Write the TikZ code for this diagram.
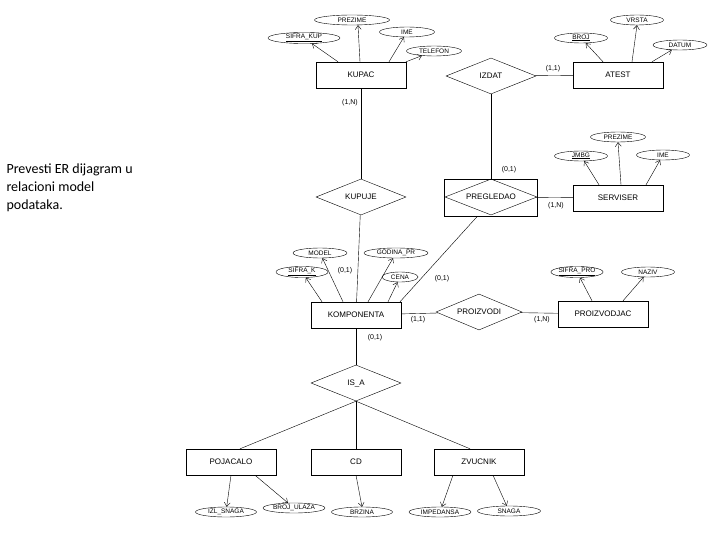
\documentclass[tikz,border=0pt]{standalone}
\usepackage{fontspec}
\setmainfont{Liberation Sans}
\newfontfamily\myCalib{Carlito}
\usetikzlibrary{shapes.geometric,arrows.meta}
\begin{document}
\begin{tikzpicture}[x=1pt,y=-1pt,
  ent/.style={draw,minimum width=90pt,minimum height=26pt,inner sep=0pt,font=\fontsize{8}{9}\selectfont},
  rel/.style={draw,diamond,aspect=2.5,minimum width=90pt,minimum height=36pt,inner sep=0pt,font=\fontsize{8}{9}\selectfont},
  att/.style={draw,ellipse,minimum height=10pt,inner sep=0pt,font=\fontsize{6.5}{7}\selectfont},
  key/.style={att},
  ar/.style={-{Straight Barb[length=4pt,width=6pt]}},
  card/.style={font=\fontsize{7}{8}\selectfont}]
\useasboundingbox (0,0) rectangle (720,540);
\node[anchor=north west,align=left,font=\myCalib\fontsize{14}{18}\selectfont] (txt) at (3,160) {Prevesti ER dijagram u\\relacioni model\\podataka.};
% entities
\node[ent] (kupac) at (361,75) {KUPAC};
\node[ent] (atest) at (618,75) {ATEST};
\node[ent] (serv) at (618,198) {SERVISER};
\node[ent] (komp) at (356,315) {KOMPONENTA};
\node[ent] (proj) at (603,314) {PROIZVODJAC};
\node[ent] (poj) at (231,462) {POJACALO};
\node[ent] (cd) at (356,462) {CD};
\node[ent] (zvu) at (479,462) {ZVUCNIK};
% relations
\node[rel] (izdat) at (491,76) {IZDAT};
\node[rel] (kupuje) at (361,197) {KUPUJE};
\node[draw,minimum width=93pt,minimum height=37pt,inner sep=0pt] (pregrect) at (491,198) {};
\node[rel,minimum width=92pt] (preg) at (491,197) {PREGLEDAO};
\node[rel,minimum width=86pt] (proiz) at (479,312) {PROIZVODI};
\node[rel] (isa) at (356,383) {IS\_A};
% attributes
\node[att,minimum width=75pt] (kprez) at (352,20) {PREZIME};
\node[key,minimum width=72pt] (ksif) at (304,38) {\underline{SIFRA\_KUP}};
\node[att,minimum width=55pt] (kime) at (407,32) {IME};
\node[att,minimum width=55pt] (ktel) at (434,51) {TELEFON};
\node[key,minimum width=53pt] (abroj) at (581,38) {\underline{BROJ}};
\node[att,minimum width=53pt] (avrs) at (637,20) {VRSTA};
\node[att,minimum width=54pt] (adat) at (680,45) {DATUM};
\node[key,minimum width=53pt] (sjmbg) at (581,156) {\underline{JMBG}};
\node[att,minimum width=55pt] (sprez) at (618,137) {PREZIME};
\node[att,minimum width=53pt] (sime) at (663,155) {IME};
\node[key,minimum width=52pt] (ksifk) at (302,272) {\underline{SIFRA\_K}};
\node[att,minimum width=54pt] (kmod) at (320,253) {MODEL};
\node[att,minimum width=64pt] (kgod) at (396,253) {GODINA\_PR};
\node[att,minimum width=36pt] (kcena) at (400,277) {CENA};
\node[key,minimum width=52pt] (psif) at (577,272) {\underline{SIFRA\_PRO}};
\node[att,minimum width=53pt] (pnaz) at (648,272) {NAZIV};
\node[att,minimum width=61pt] (izl) at (226,512) {IZL\_SNAGA};
\node[att,minimum width=62pt] (bul) at (294,508) {BROJ\_ULAZA};
\node[att,minimum width=61pt] (brz) at (362,512) {BRZINA};
\node[att,minimum width=62pt] (imp) at (440,512) {IMPEDANSA};
\node[att,minimum width=63pt] (sna) at (509,511) {SNAGA};
% attribute arrows
\draw[ar] ([xshift=-23]kupac.north) -- (ksif);
\draw[ar] ([xshift=-1]kupac.north) -- ([xshift=6]kprez.south);
\draw[ar] ([xshift=28]kupac.north) -- (kime);
\draw[ar] ([xshift=45]kupac.north) -- (ktel);
\draw[ar] ([xshift=-15]atest.north) -- (abroj);
\draw[ar] ([xshift=14]atest.north) -- (avrs.south);
\draw[ar] ([xshift=34]atest.north) -- (adat);
\draw[ar] ([xshift=-19]serv.north) -- (sjmbg);
\draw[ar] ([xshift=3]serv.north) -- (sprez.south);
\draw[ar] ([xshift=28]serv.north) -- (sime);
\draw[ar] ([xshift=-34]komp.north) -- (ksifk);
\draw[ar] ([xshift=-13]komp.north) -- (kmod);
\draw[ar] ([xshift=12]komp.north) -- (kgod);
\draw[ar] ([xshift=32]komp.north) -- (kcena);
\draw[ar] ([xshift=-11]proj.north) -- (psif);
\draw[ar] ([xshift=20]proj.north) -- (pnaz);
\draw[ar] (poj.south) -- (izl);
\draw[ar] ([xshift=24]poj.south) -- (bul);
\draw[ar] (cd.south) -- (brz.north);
\draw[ar] ([xshift=-26]zvu.south) -- (imp);
\draw[ar] ([xshift=14]zvu.south) -- (sna);
% relationship lines
\draw (kupac) -- (kupuje);
\draw (kupuje) -- (komp);
\draw (izdat) -- (atest);
\draw (izdat) -- (preg);
\draw (preg) -- (serv);
\draw ([xshift=44]komp.north) -- ([xshift=-14]pregrect.south);
\draw (komp) -- (proiz);
\draw (proiz) -- (proj);
\draw (komp) -- (isa);
\draw (isa.south) -- ([xshift=9]poj.north);
\draw (isa.south) -- (cd.north);
\draw (isa.south) -- ([xshift=-9]zvu.north);
% cardinalities
\node[card] (c1) at (350,103) {(1,N)};
\node[card] (c2) at (553,69) {(1,1)};
\node[card] (c3) at (509,170) {(0,1)};
\node[card] (c4) at (556,206) {(1,N)};
\node[card] (c5) at (345,271) {(0,1)};
\node[card] (c6) at (442,279) {(0,1)};
\node[card] (c7) at (418,320) {(1,1)};
\node[card] (c8) at (542,320) {(1,N)};
\node[card] (c9) at (375,338) {(0,1)};
\end{tikzpicture}
\end{document}
